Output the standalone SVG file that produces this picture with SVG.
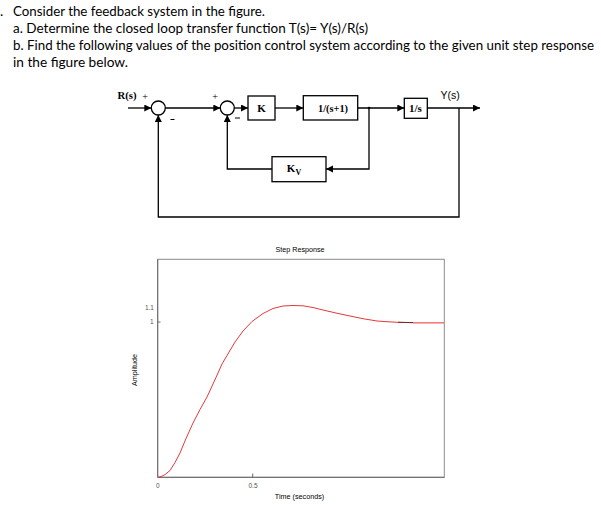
<svg xmlns="http://www.w3.org/2000/svg" width="601" height="505" viewBox="0 0 601 505">
<defs>
<marker id="arr" markerUnits="userSpaceOnUse" markerWidth="8" markerHeight="8" refX="7" refY="3.5" orient="auto">
<path d="M0,0 L7,3.5 L0,7 z" fill="#000"/>
</marker>
<style>
.q{font-family:Lato,"Open Sans","Liberation Sans",sans-serif;font-size:13.8px;fill:#000}
.b{fill:#fff;stroke:#000;stroke-width:1.3}
.bt{font-family:"Liberation Serif","DejaVu Serif",serif;font-weight:bold;font-size:11px;fill:#000;text-anchor:middle}
.c{fill:none;stroke:#000;stroke-width:1.3}
.s{font-family:"Liberation Serif",serif;font-size:10px;fill:#000}
.ax{font-family:"Liberation Sans",Arial,sans-serif;font-size:6.5px;fill:#555}
.pt{font-family:"Liberation Sans",Arial,sans-serif;font-size:7.2px;fill:#000;text-anchor:middle}
</style>
</defs>
<rect width="601" height="505" fill="#fff"/>

<g id="question">
<text class="q" x="0" y="16">.</text>
<text class="q" x="13" y="16" textLength="252" lengthAdjust="spacingAndGlyphs">Consider the feedback system in the figure.</text>
<text class="q" x="13" y="33" textLength="355" lengthAdjust="spacingAndGlyphs">a. Determine the closed loop transfer function T(s)= Y(s)/R(s)</text>
<text class="q" x="13" y="50" textLength="581" lengthAdjust="spacingAndGlyphs">b. Find the following values of the position control system according to the given unit step response</text>
<text class="q" x="13" y="67" textLength="115" lengthAdjust="spacingAndGlyphs">in the figure below.</text>
</g>

<g id="input-label">
<text class="bt" x="127" y="99" textLength="19" lengthAdjust="spacingAndGlyphs">R(s)</text>
</g>

<g id="sum1">
<circle class="b" cx="158.3" cy="108" r="7"/>
<text class="s" x="145" y="100" text-anchor="middle">+</text>
<line x1="170.5" y1="119.5" x2="174.5" y2="119.5" stroke="#000" stroke-width="1"/>
</g>

<g id="sum2">
<circle class="b" cx="227.3" cy="108" r="7"/>
<text class="s" x="215" y="100" text-anchor="middle">+</text>
<line x1="235" y1="118" x2="240" y2="118" stroke="#000" stroke-width="1"/>
</g>

<g id="K">
<rect class="b" x="248" y="96" width="27" height="24"/>
<text class="bt" x="261.5" y="112">K</text>
</g>

<g id="plant1">
<rect class="b" x="303.3" y="95.7" width="54.4" height="24.3"/>
<text class="bt" x="333" y="111.5" textLength="30" lengthAdjust="spacingAndGlyphs">1/(s+1)</text>
</g>

<g id="integrator">
<rect class="b" x="404.3" y="98.3" width="23" height="20"/>
<text class="bt" x="415.3" y="112">1/s</text>
</g>

<g id="Kv">
<rect class="b" x="272" y="156.7" width="54" height="25"/>
<text class="bt" x="294" y="172">K<tspan font-size="8" dy="2.5">V</tspan></text>
</g>

<g id="output-label">
<text x="450" y="99" font-family="'Liberation Sans',Arial,sans-serif" font-size="10.5" text-anchor="middle" fill="#000">Y(s)</text>
</g>

<g id="connectors">
<path class="c" d="M128,108 H151.3" marker-end="url(#arr)"/>
<path class="c" d="M165.3,108 H220.3" marker-end="url(#arr)"/>
<path class="c" d="M234.3,108 H248" marker-end="url(#arr)"/>
<path class="c" d="M275,108 H303.3" marker-end="url(#arr)"/>
<path class="c" d="M357.7,108 H404.3" marker-end="url(#arr)"/>
<path class="c" d="M427.3,108 H480" marker-end="url(#arr)"/>
<path class="c" d="M369,108 V169 H326" marker-end="url(#arr)"/>
<path class="c" d="M272,169 H227.3 V115" marker-end="url(#arr)"/>
<path class="c" d="M459,108 V217 H158.3 V115" marker-end="url(#arr)"/>
<circle cx="369" cy="108" r="1.3" fill="#000"/>
</g>

<g id="step-plot">
<text class="pt" x="300" y="252">Step Response</text>
<rect x="157.7" y="259.3" width="286.6" height="218" fill="none" stroke="#8a8a8a" stroke-width="1"/>
<line x1="157.7" y1="259.3" x2="157.7" y2="477.3" stroke="#6a6a6a" stroke-width="1"/>
<line x1="157.7" y1="477.3" x2="444.3" y2="477.3" stroke="#6a6a6a" stroke-width="1"/>
<line x1="252.7" y1="477.3" x2="252.7" y2="473.5" stroke="#6a6a6a" stroke-width="1"/>
<line x1="157.7" y1="322" x2="160.5" y2="322" stroke="#6a6a6a" stroke-width="1"/>
<text class="ax" x="154" y="310" text-anchor="end">1.1</text>
<text class="ax" x="153.5" y="324" text-anchor="end">1</text>
<text class="ax" x="157.7" y="488" text-anchor="middle">0</text>
<text class="ax" x="253" y="488" text-anchor="middle">0.5</text>
<text class="pt" x="299.5" y="499">Time (seconds)</text>
<text class="pt" transform="translate(136.5,370) rotate(-90)" font-size="7.6">Amplitude</text>
<polyline fill="none" stroke="#e23a3a" stroke-width="1" stroke-linejoin="round" points="158,477.3 161,476.6 165,474.6 170,470.5 175,462.5 180,453 186,438.5 193,423 200,409.5 207,397 213,384 218,373 222,364 227,355.5 235,342 243,331 252,321.5 263,313.5 273,308.5 283,306 293,305.5 303,305.8 313,307.5 323,310 336,313 350,316 363,318.7 377,321 388,321.8 398,322.3 413,322.7 444,322.7"/>
<line x1="398" y1="322.3" x2="413" y2="322.6" stroke="#5a2a2a" stroke-width="0.9"/>
<line x1="413" y1="322.7" x2="444" y2="322.7" stroke="#f08080" stroke-width="1.5"/>
</g>
</svg>
